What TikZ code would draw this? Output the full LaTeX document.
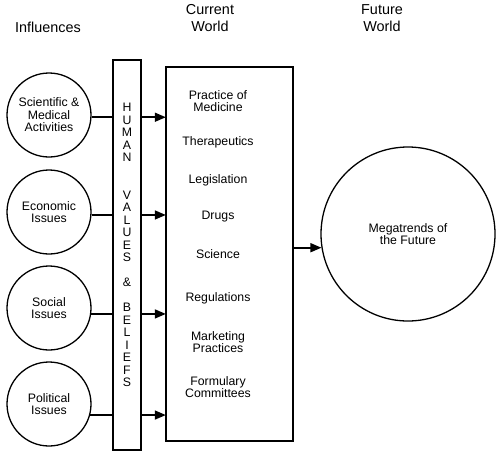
\documentclass[tikz,border=0pt]{standalone}
\usepackage{fontspec}
\setmainfont{Liberation Sans}
\usetikzlibrary{arrows.meta}

\tikzset{
    influence/.style={draw, circle, line width=1.3pt, minimum size=84pt, inner sep=0pt, align=center},
    heading/.style={align=center, font=\fontsize{14.4}{17}\selectfont},
    item/.style={align=center},
    link/.style={line width=1.6pt},
    flow/.style={line width=1.6pt, -{Triangle[length=11pt, width=9pt]}}
}

\begin{document}
\begin{tikzpicture}[x=1pt, y=-1pt, font=\fontsize{12.3}{12.5}\selectfont]
\useasboundingbox (0,0) rectangle (500,453);

% headings
\node[heading] (infl) at (48,27) {Influences};
\node[heading] (curr) at (210,18.5) {Current\\World};
\node[heading] (futu) at (382,18.5) {Future\\World};

% influences
\node[influence] (sci) at (49,115) {Scientific \&\\Medical\\Activities};
\node[influence] (eco) at (49,212) {Economic\\Issues};
\node[influence] (soc) at (49,308) {Social\\Issues};
\node[influence] (pol) at (49,404) {Political\\Issues};

% values bar and current world box
\draw[line width=1.6pt] (113,60) rectangle (141,450);
\node[minimum width=28pt, minimum height=390pt, inner sep=0pt] (bar) at (127,255) {};
\node[align=center] (values) at (127,245) {H\\U\\M\\A\\N\\[25pt]V\\A\\L\\U\\E\\S\\[12.5pt]\&\\[12.5pt]B\\E\\L\\I\\E\\F\\S};

\draw[line width=1.6pt] (166,67) rectangle (293,441);
\node[minimum width=127pt, minimum height=374pt, inner sep=0pt] (box) at (229.5,254) {};
\node[item] (prac) at (218,101) {Practice of\\Medicine};
\node[item] (ther) at (218,142) {Therapeutics};
\node[item] (legi) at (218,180) {Legislation};
\node[item] (drug) at (218,217) {Drugs};
\node[item] (scie) at (218,254) {Science};
\node[item] (regu) at (218,298) {Regulations};
\node[item] (mark) at (218,342) {Marketing\\Practices};
\node[item] (form) at (218,387) {Formulary\\Committees};

% future world
\node[draw, circle, line width=1.3pt, minimum size=174pt, inner sep=0pt, align=center] (mega) at (408,234) {Megatrends of\\[-1pt]the Future};

% connectors
\draw[link] (sci.-3) -- (sci.-3 -| bar.west);
\draw[link] (eco.-4) -- (eco.-4 -| bar.west);
\draw[link] (soc.-8) -- (soc.-8 -| bar.west);
\draw[link] (pol.-15) -- (pol.-15 -| bar.west);
\draw[flow] (sci.-3 -| bar.east) -- (sci.-3 -| box.west);
\draw[flow] (eco.-4 -| bar.east) -- (eco.-4 -| box.west);
\draw[flow] (soc.-8 -| bar.east) -- (soc.-8 -| box.west);
\draw[flow] (pol.-15 -| bar.east) -- (pol.-15 -| box.west);
\draw[flow] (box.east |- mega.189) -- (mega.189);

\end{tikzpicture}
\end{document}
